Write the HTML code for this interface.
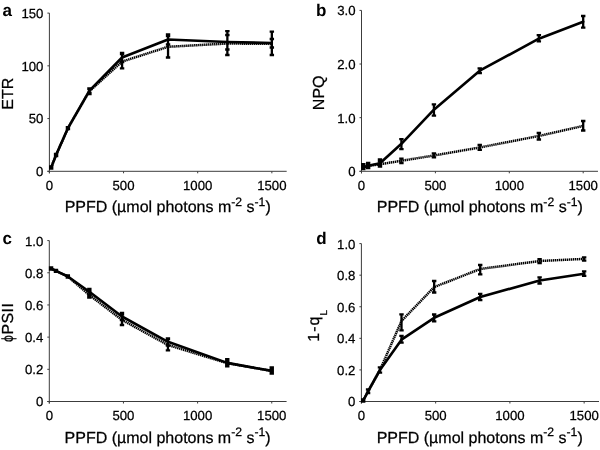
<!DOCTYPE html>
<html lang="en"><head><meta charset="utf-8"><title>Figure</title>
<style>
html,body{margin:0;padding:0;background:#fff;}
body{width:600px;height:450px;overflow:hidden;}
svg{display:block;font-family:"Liberation Sans",Arial,Helvetica,sans-serif;fill:#000;}
.ax{stroke:#3c3c3c;stroke-width:1;fill:none;}
text{stroke:#000;stroke-width:0.25px;text-rendering:geometricPrecision;}
.tk{font-size:13.2px;}
.lb{font-size:16px;}
.pl{font-size:17px;font-weight:bold;stroke:none;}
.s{stroke:#000;stroke-width:2.6;fill:none;stroke-linejoin:round;stroke-linecap:round;}
.d{stroke:#000;stroke-width:2.5;fill:none;stroke-dasharray:1.4 0.6;}
.e{stroke:#000;stroke-width:2.3;fill:none;}
</style></head><body>
<svg width="600" height="450" viewBox="0 0 600 450">
<rect x="0" y="0" width="600" height="450" fill="#fff"/>
<g>
<path class="ax" d="M49.4 13.1 V173.3 M47.4 171.3 H286.68"/>
<path class="ax" d="M47.4 171.3 h2 M47.4 118.57 h2 M47.4 65.83 h2 M47.4 13.1 h2 M49.4 171.3 v2 M123.55 171.3 v2 M197.7 171.3 v2 M271.85 171.3 v2"/>
<text class="tk" x="43.4" y="176.2" text-anchor="end">0</text>
<text class="tk" x="43.4" y="123.47" text-anchor="end">50</text>
<text class="tk" x="43.4" y="70.73" text-anchor="end">100</text>
<text class="tk" x="43.4" y="18" text-anchor="end">150</text>
<text class="tk" x="49.4" y="189.5" text-anchor="middle">0</text>
<text class="tk" x="123.55" y="189.5" text-anchor="middle">500</text>
<text class="tk" x="197.7" y="189.5" text-anchor="middle">1000</text>
<text class="tk" x="271.85" y="189.5" text-anchor="middle">1500</text>
<text class="lb" x="167.7" y="212.4" text-anchor="middle">PPFD (µmol photons m<tspan dy="-6.6" font-size="12.2">-2</tspan><tspan dy="6.6"> s</tspan><tspan dy="-6.6" font-size="12.2">-1</tspan><tspan dy="6.6">)</tspan></text>
<text class="lb" transform="translate(12.5 93.7) rotate(-90)" text-anchor="middle">ETR</text>
<text class="pl" x="2.6" y="16">a</text>
<polyline class="d" points="51.18,167.5 56.07,155 67.94,128.2 89.44,91.2 122.07,61.6 168.04,46.8 227.36,43.5 271.85,43.9"/>
<polyline class="s" points="51.18,167.5 56.07,155 67.94,128.2 89.44,90.6 122.07,57.5 168.04,39.5 227.36,42 271.85,43"/>
<path class="e" d="M51.18 166.5 V168.5 M48.98 166.5 h4.4 M48.98 168.5 h4.4 M56.07 154 V156 M53.87 154 h4.4 M53.87 156 h4.4 M67.94 127.2 V129.2 M65.74 127.2 h4.4 M65.74 129.2 h4.4 M89.44 88.3 V93 M87.24 88.3 h4.4 M87.24 93 h4.4 M122.07 53 V62 M119.87 53 h4.4 M119.87 62 h4.4 M168.04 34.5 V44.5 M165.84 34.5 h4.4 M165.84 44.5 h4.4 M227.36 35 V49.5 M225.16 35 h4.4 M225.16 49.5 h4.4 M271.85 39 V47.5 M269.65 39 h4.4 M269.65 47.5 h4.4 M51.18 166.5 V168.5 M48.98 166.5 h4.4 M48.98 168.5 h4.4 M56.07 154 V156 M53.87 154 h4.4 M53.87 156 h4.4 M67.94 127.2 V129.2 M65.74 127.2 h4.4 M65.74 129.2 h4.4 M89.44 89 V94.2 M87.24 89 h4.4 M87.24 94.2 h4.4 M122.07 54 V68.3 M119.87 54 h4.4 M119.87 68.3 h4.4 M168.04 36 V57.5 M165.84 36 h4.4 M165.84 57.5 h4.4 M227.36 31.2 V55 M225.16 31.2 h4.4 M225.16 55 h4.4 M271.85 31.7 V55 M269.65 31.7 h4.4 M269.65 55 h4.4"/>
</g>
<g>
<path class="ax" d="M361.5 10.4 V173.3 M359.5 171.3 H597.98"/>
<path class="ax" d="M359.5 171.3 h2 M359.5 117.67 h2 M359.5 64.03 h2 M359.5 10.4 h2 M361.5 171.3 v2 M435.4 171.3 v2 M509.3 171.3 v2 M583.2 171.3 v2"/>
<text class="tk" x="355.5" y="176.2" text-anchor="end">0</text>
<text class="tk" x="355.5" y="122.57" text-anchor="end">1.0</text>
<text class="tk" x="355.5" y="68.93" text-anchor="end">2.0</text>
<text class="tk" x="355.5" y="15.3" text-anchor="end">3.0</text>
<text class="tk" x="361.5" y="189.5" text-anchor="middle">0</text>
<text class="tk" x="435.4" y="189.5" text-anchor="middle">500</text>
<text class="tk" x="509.3" y="189.5" text-anchor="middle">1000</text>
<text class="tk" x="583.2" y="189.5" text-anchor="middle">1500</text>
<text class="lb" x="479.8" y="212.4" text-anchor="middle">PPFD (µmol photons m<tspan dy="-6.6" font-size="12.2">-2</tspan><tspan dy="6.6"> s</tspan><tspan dy="-6.6" font-size="12.2">-1</tspan><tspan dy="6.6">)</tspan></text>
<text class="lb" transform="translate(323.9 92.8) rotate(-90)" text-anchor="middle">NPQ</text>
<text class="pl" x="315.9" y="16">b</text>
<polyline class="d" points="363.27,167.5 368.15,166 379.98,164.2 401.41,160.8 433.92,155.5 479.74,147.5 538.86,136 583.2,125.9"/>
<polyline class="s" points="363.27,167.5 368.15,165.8 379.98,163.3 401.41,143.8 433.92,109.7 479.74,70.7 538.86,38.7 583.2,21.7"/>
<path class="e" d="M363.27 164.2 V169.2 M361.07 164.2 h4.4 M361.07 169.2 h4.4 M368.15 162.8 V168.2 M365.95 162.8 h4.4 M365.95 168.2 h4.4 M379.98 159.5 V166.5 M377.78 159.5 h4.4 M377.78 166.5 h4.4 M401.41 139.2 V149.2 M399.21 139.2 h4.4 M399.21 149.2 h4.4 M433.92 104.3 V115.6 M431.72 104.3 h4.4 M431.72 115.6 h4.4 M479.74 68.3 V73 M477.54 68.3 h4.4 M477.54 73 h4.4 M538.86 35.2 V41.3 M536.66 35.2 h4.4 M536.66 41.3 h4.4 M583.2 16 V27.7 M581 16 h4.4 M581 27.7 h4.4 M363.27 166 V168 M361.07 166 h4.4 M361.07 168 h4.4 M368.15 164.6 V166.6 M365.95 164.6 h4.4 M365.95 166.6 h4.4 M379.98 161.6 V164.6 M377.78 161.6 h4.4 M377.78 164.6 h4.4 M401.41 158.6 V163.2 M399.21 158.6 h4.4 M399.21 163.2 h4.4 M433.92 153.4 V157.4 M431.72 153.4 h4.4 M431.72 157.4 h4.4 M479.74 145 V149.8 M477.54 145 h4.4 M477.54 149.8 h4.4 M538.86 133 V139.5 M536.66 133 h4.4 M536.66 139.5 h4.4 M583.2 121 V130.5 M581 121 h4.4 M581 130.5 h4.4"/>
</g>
<g>
<path class="ax" d="M49.3 240.6 V403.5 M47.3 401.5 H286.58"/>
<path class="ax" d="M47.3 401.5 h2 M47.3 369.32 h2 M47.3 337.14 h2 M47.3 304.96 h2 M47.3 272.78 h2 M47.3 240.6 h2 M49.3 401.5 v2 M123.45 401.5 v2 M197.6 401.5 v2 M271.75 401.5 v2"/>
<text class="tk" x="43.3" y="406.4" text-anchor="end">0</text>
<text class="tk" x="43.3" y="374.22" text-anchor="end">0.2</text>
<text class="tk" x="43.3" y="342.04" text-anchor="end">0.4</text>
<text class="tk" x="43.3" y="309.86" text-anchor="end">0.6</text>
<text class="tk" x="43.3" y="277.68" text-anchor="end">0.8</text>
<text class="tk" x="43.3" y="245.5" text-anchor="end">1.0</text>
<text class="tk" x="49.3" y="419.7" text-anchor="middle">0</text>
<text class="tk" x="123.45" y="419.7" text-anchor="middle">500</text>
<text class="tk" x="197.6" y="419.7" text-anchor="middle">1000</text>
<text class="tk" x="271.75" y="419.7" text-anchor="middle">1500</text>
<text class="lb" x="167.6" y="442.6" text-anchor="middle">PPFD (µmol photons m<tspan dy="-6.6" font-size="12.2">-2</tspan><tspan dy="6.6"> s</tspan><tspan dy="-6.6" font-size="12.2">-1</tspan><tspan dy="6.6">)</tspan></text>
<text class="lb" transform="translate(12.5 342) rotate(-90) scale(0.76 1)">ϕ</text>
<text class="lb" transform="translate(12.5 334.6) rotate(-90)" letter-spacing="0.4">PSII</text>
<text class="pl" x="2.5" y="243.8">c</text>
<polyline class="d" points="51.08,268.5 55.97,270.9 67.84,276.5 89.34,295 121.97,319.9 167.94,345 227.26,363.2 271.75,370.9"/>
<polyline class="s" points="51.08,268.5 55.97,270.9 67.84,276.5 89.34,291.7 121.97,316.5 167.94,341.8 227.26,362.9 271.75,370.9"/>
<path class="e" d="M51.08 267.5 V269.5 M48.88 267.5 h4.4 M48.88 269.5 h4.4 M55.97 269.9 V271.9 M53.77 269.9 h4.4 M53.77 271.9 h4.4 M67.84 275.5 V277.5 M65.64 275.5 h4.4 M65.64 277.5 h4.4 M89.34 289 V295 M87.14 289 h4.4 M87.14 295 h4.4 M121.97 313 V320 M119.77 313 h4.4 M119.77 320 h4.4 M167.94 338.3 V345.5 M165.74 338.3 h4.4 M165.74 345.5 h4.4 M227.26 359.1 V366.3 M225.06 359.1 h4.4 M225.06 366.3 h4.4 M271.75 367.4 V373.5 M269.55 367.4 h4.4 M269.55 373.5 h4.4 M51.08 267.5 V269.5 M48.88 267.5 h4.4 M48.88 269.5 h4.4 M55.97 269.9 V271.9 M53.77 269.9 h4.4 M53.77 271.9 h4.4 M67.84 275.5 V277.5 M65.64 275.5 h4.4 M65.64 277.5 h4.4 M89.34 291.5 V297.5 M87.14 291.5 h4.4 M87.14 297.5 h4.4 M121.97 314.5 V325 M119.77 314.5 h4.4 M119.77 325 h4.4 M167.94 339 V350.3 M165.74 339 h4.4 M165.74 350.3 h4.4 M227.26 361 V364.4 M225.06 361 h4.4 M225.06 364.4 h4.4 M271.75 369.3 V371.6 M269.55 369.3 h4.4 M269.55 371.6 h4.4"/>
</g>
<g>
<path class="ax" d="M361.4 243.6 V403.5 M359.4 401.5 H599"/>
<path class="ax" d="M359.4 401.5 h2 M359.4 369.92 h2 M359.4 338.34 h2 M359.4 306.76 h2 M359.4 275.18 h2 M359.4 243.6 h2 M361.4 401.5 v2 M435.65 401.5 v2 M509.9 401.5 v2 M584.15 401.5 v2"/>
<text class="tk" x="355.4" y="406.4" text-anchor="end">0</text>
<text class="tk" x="355.4" y="374.82" text-anchor="end">0.2</text>
<text class="tk" x="355.4" y="343.24" text-anchor="end">0.4</text>
<text class="tk" x="355.4" y="311.66" text-anchor="end">0.6</text>
<text class="tk" x="355.4" y="280.08" text-anchor="end">0.8</text>
<text class="tk" x="355.4" y="248.5" text-anchor="end">1.0</text>
<text class="tk" x="361.4" y="419.7" text-anchor="middle">0</text>
<text class="tk" x="435.65" y="419.7" text-anchor="middle">500</text>
<text class="tk" x="509.9" y="419.7" text-anchor="middle">1000</text>
<text class="tk" x="584.15" y="419.7" text-anchor="middle">1500</text>
<text class="lb" x="479.7" y="442.6" text-anchor="middle">PPFD (µmol photons m<tspan dy="-6.6" font-size="12.2">-2</tspan><tspan dy="6.6"> s</tspan><tspan dy="-6.6" font-size="12.2">-1</tspan><tspan dy="6.6">)</tspan></text>
<text class="lb" transform="translate(318.8 325.3) rotate(-90)" text-anchor="middle" letter-spacing="1.1">1-q<tspan dy="8" font-size="10">L</tspan></text>
<text class="pl" x="316.2" y="243.8">d</text>
<polyline class="d" points="363.18,400.5 368.08,391.3 379.96,370 401.5,321 434.16,287.1 480.2,269 539.6,261 584.15,258.9"/>
<polyline class="s" points="363.18,400.5 368.08,391.3 379.96,370 401.5,339.7 434.16,317.8 480.2,297 539.6,280.5 584.15,273.8"/>
<path class="e" d="M363.18 399.5 V401.5 M360.98 399.5 h4.4 M360.98 401.5 h4.4 M368.08 389.5 V393 M365.88 389.5 h4.4 M365.88 393 h4.4 M379.96 367.3 V372.7 M377.76 367.3 h4.4 M377.76 372.7 h4.4 M401.5 335.9 V342.6 M399.3 335.9 h4.4 M399.3 342.6 h4.4 M434.16 314.5 V321.3 M431.96 314.5 h4.4 M431.96 321.3 h4.4 M480.2 293.8 V300.2 M478 293.8 h4.4 M478 300.2 h4.4 M539.6 277.4 V283.5 M537.4 277.4 h4.4 M537.4 283.5 h4.4 M584.15 271.4 V275.9 M581.95 271.4 h4.4 M581.95 275.9 h4.4 M363.18 399.5 V401.5 M360.98 399.5 h4.4 M360.98 401.5 h4.4 M368.08 389.5 V393 M365.88 389.5 h4.4 M365.88 393 h4.4 M379.96 367.3 V372.7 M377.76 367.3 h4.4 M377.76 372.7 h4.4 M401.5 314.3 V330.3 M399.3 314.3 h4.4 M399.3 330.3 h4.4 M434.16 281 V292.5 M431.96 281 h4.4 M431.96 292.5 h4.4 M480.2 265 V274.3 M478 265 h4.4 M478 274.3 h4.4 M539.6 259.1 V263.2 M537.4 259.1 h4.4 M537.4 263.2 h4.4 M584.15 257.4 V260.6 M581.95 257.4 h4.4 M581.95 260.6 h4.4"/>
</g>
</svg>
</body></html>
